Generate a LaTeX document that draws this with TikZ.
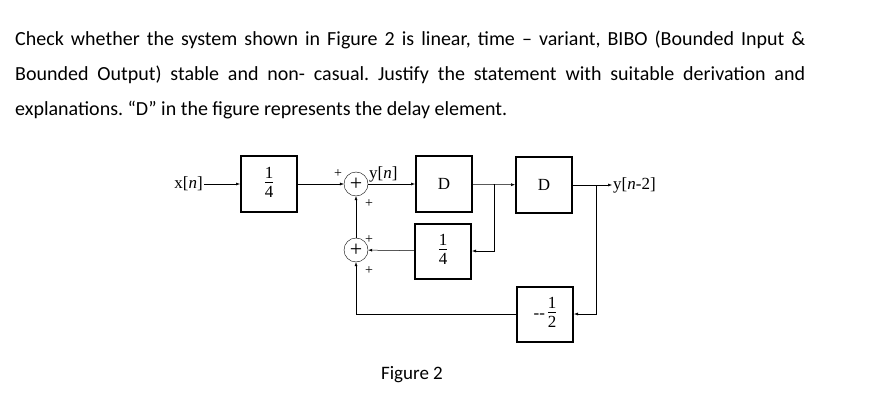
\documentclass[tikz,border=0pt]{standalone}
\usepackage{fontspec}
\setmainfont{Carlito}
\newfontfamily\tms{Liberation Serif}
\usetikzlibrary{arrows.meta}
\newcommand{\myfr}[2]{\begin{tabular}{@{}c@{}}#1\\[-2pt]\hline\rule{0pt}{15pt}#2\end{tabular}}
\begin{document}
\begin{tikzpicture}[x=1pt,y=-1pt,
  blk/.style={draw,line width=2pt,minimum width=56pt,minimum height=55pt,inner sep=0pt,font=\tms\fontsize{17}{19}\selectfont},
  summ/.style={draw,circle,minimum size=24pt,inner sep=0pt,font=\tms\fontsize{22}{22}\selectfont},
  ar/.style={-{Latex[length=4pt,width=3pt]},line width=0.5pt},
  lbl/.style={font=\tms\fontsize{17}{17}\selectfont,inner sep=1pt},
  sg/.style={font=\tms\fontsize{14}{14}\selectfont,inner sep=0pt}]
\useasboundingbox (0,0) rectangle (869,406);
\node[anchor=north west,inner sep=0pt,text width=790pt,align=justify,font=\fontsize{20}{35}\selectfont\frenchspacing] (txt) at (15,31)
{Check whether the system shown in Figure 2 is linear, time -- variant, BIBO (Bounded Input \&\linebreak Bounded Output) stable and non- casual. Justify the statement with suitable derivation and\linebreak explanations. ``D'' in the figure represents the delay element.\par};
\node[lbl,anchor=east] (x) at (204,184) {x[\textit{n}]};
\node[blk] (g1) at (269,184) {\myfr{1}{4}};
\node[summ] (s1) at (356,184) {+};
\node[blk] (d1) at (444,184) {D};
\node[blk] (d2) at (544,185) {D};
\node[lbl,anchor=west] (y2) at (612,185) {y[\textit{n}-2]};
\node[summ] (s2) at (356,250) {+};
\node[blk] (g2) at (443,251) {\myfr{1}{4}};
\node[blk] (g3) at (545,314) {--\,\myfr{1}{2}};
\node[lbl,anchor=south west] (yn) at (368,183) {y[\textit{n}]};
\node[sg] (p1) at (338,174) {+};
\node[sg] (p2) at (369,204) {+};
\node[sg] (p3) at (369,240) {+};
\node[sg] (p4) at (369,271) {+};
\coordinate (t1) at (494,184);
\coordinate (t2) at (596,185);
\draw[ar] (x) -- (g1);
\draw[ar] (g1) -- (s1);
\draw[ar] (s1) -- (d1);
\draw[ar] (d1) -- (d2);
\draw[ar] (d2) -- (y2);
\draw[ar] (t1) |- (g2);
\draw[ar] (g2) -- (s2);
\draw[ar] (s2) -- (s1);
\draw[ar] (t2) |- (g3);
\draw[ar] (g3) -| (s2);
\node[anchor=center,font=\fontsize{19}{19}\selectfont] (fig) at (412,375) {Figure 2};
\end{tikzpicture}
\end{document}
